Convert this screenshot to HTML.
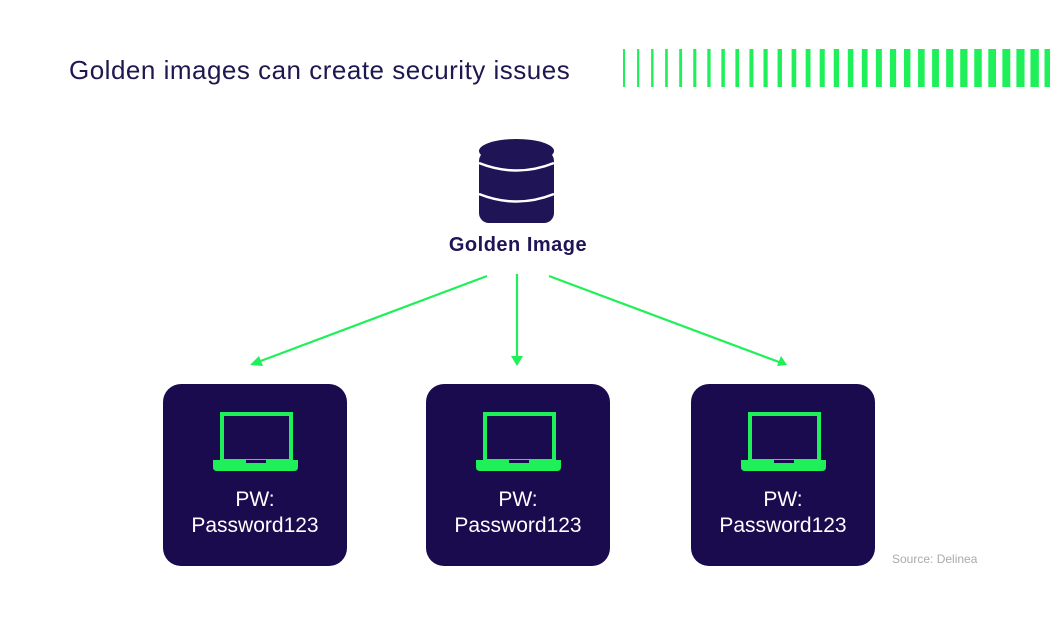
<!DOCTYPE html>
<html><head><style>
body{margin:0;width:1050px;height:622px;background:#fff;position:relative;overflow:hidden;font-family:"Liberation Sans",sans-serif}
.t{position:absolute;left:69px;top:55px;font-size:26px;color:#1e1750;letter-spacing:0.5px}
.box{position:absolute;top:384px;width:184px;height:182px;background:#1a0a4e;border-radius:18px}
.box .p{position:absolute;top:103px;width:100%;text-align:center;color:#fff;font-size:21px;line-height:26px}
.src{position:absolute;left:892px;top:552px;font-size:12px;color:#aaa}
</style></head><body>
<div class="t">Golden images can create security issues</div>
<svg width="1050" height="622" style="position:absolute;left:0;top:0">
<g fill="#1ff05a" id="bars"></g>
<g fill="#1f1456">
<rect x="479" y="151" width="75" height="72" rx="10"/>
<ellipse cx="516.5" cy="151" rx="37.5" ry="12"/>
</g>
<g stroke="#fff" stroke-width="2.5" fill="none">
<path d="M479 163 Q516.5 178 554 163"/>
<path d="M479 194 Q516.5 209 554 194"/>
</g>
<text x="518" y="251" text-anchor="middle" font-size="20" font-weight="bold" fill="#1f1456" font-family="Liberation Sans" letter-spacing="0.5">Golden Image</text>
<g stroke="#1ff05a" stroke-width="2.2" fill="#1ff05a">
<line x1="487" y1="276" x2="258" y2="362"/><polygon points="250,365 259,356 263,366" stroke="none"/>
<line x1="517" y1="274" x2="517" y2="357"/><polygon points="517,366 511,356 523,356" stroke="none"/>
<line x1="549" y1="276" x2="779" y2="362"/><polygon points="787,365 777,366 781,356" stroke="none"/>
</g>
</svg>
<script>
var g=document.getElementById('bars'),s='';
for(var i=0;i<31;i++){var x=623+i*14.05,w=2+i*0.22;s+='<rect x="'+x+'" y="49" width="'+w+'" height="38"/>';}
g.innerHTML=s;
</script>
<div class="box" style="left:163px"><svg width="184" height="100" style="position:absolute;left:0;top:0"><rect x="59" y="30" width="69" height="47" fill="none" stroke="#1ff05a" stroke-width="4"/><path d="M50 76 H135 V83 Q135 87 131 87 H54 Q50 87 50 83Z" fill="#1ff05a"/><rect x="83" y="76" width="20" height="3" fill="#1a0a4e"/></svg><div class="p">PW:<br>Password123</div></div>
<div class="box" style="left:426px"><svg width="184" height="100" style="position:absolute;left:0;top:0"><rect x="59" y="30" width="69" height="47" fill="none" stroke="#1ff05a" stroke-width="4"/><path d="M50 76 H135 V83 Q135 87 131 87 H54 Q50 87 50 83Z" fill="#1ff05a"/><rect x="83" y="76" width="20" height="3" fill="#1a0a4e"/></svg><div class="p">PW:<br>Password123</div></div>
<div class="box" style="left:691px"><svg width="184" height="100" style="position:absolute;left:0;top:0"><rect x="59" y="30" width="69" height="47" fill="none" stroke="#1ff05a" stroke-width="4"/><path d="M50 76 H135 V83 Q135 87 131 87 H54 Q50 87 50 83Z" fill="#1ff05a"/><rect x="83" y="76" width="20" height="3" fill="#1a0a4e"/></svg><div class="p">PW:<br>Password123</div></div>
<div class="src">Source: Delinea</div>
</body></html>
